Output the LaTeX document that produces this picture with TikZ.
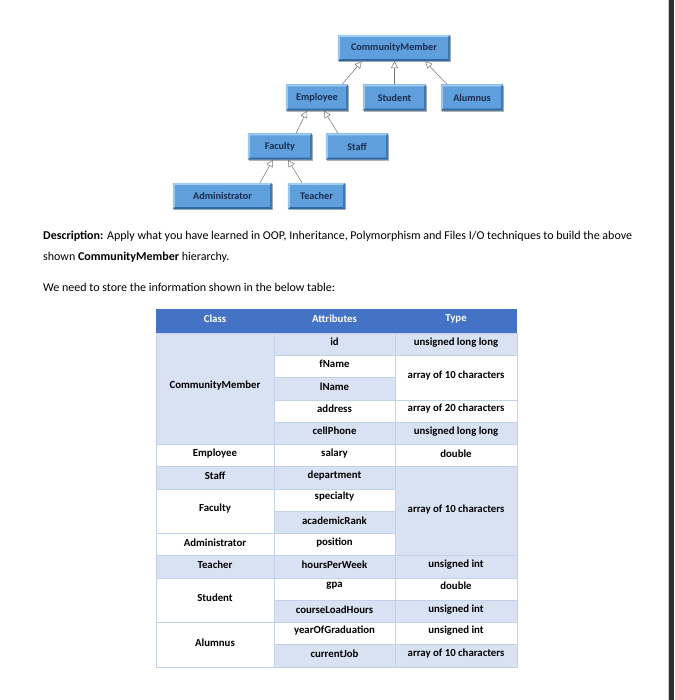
\documentclass[tikz,border=0pt]{standalone}
\usepackage{fontspec}
\setmainfont{Carlito}
\usetikzlibrary{arrows.meta,shadows}
\definecolor{clsblue}{HTML}{5E9FDC}
\definecolor{clslight}{HTML}{A3CEF3}
\definecolor{clsdark}{HTML}{2F69A3}
\definecolor{clsnavy}{HTML}{1C2B4D}
\definecolor{hdrblue}{HTML}{4472C4}
\definecolor{rowblue}{HTML}{D9E2F3}
\definecolor{gridc}{HTML}{C3D1EB}
\definecolor{edgegray}{HTML}{2E2E2E}
\begin{document}
\begin{tikzpicture}[x=1pt,y=-1pt,line join=miter,
		>={Triangle[open,length=7pt,width=7pt]},
		cls/.style={fill=clsblue,text=clsnavy,inner sep=0pt,minimum height=26pt,
			font=\fontsize{10.2}{12}\selectfont\bfseries,
			drop shadow={shadow xshift=1.2pt,shadow yshift=-1.2pt,fill=black!30,opacity=1}},
		isa/.style={->,draw=black!55,line width=0.5pt},
		cell/.style={font=\fontsize{10.8}{12}\selectfont\bfseries,inner sep=0pt},
		txt/.style={anchor=base west,inner sep=0pt,font=\fontsize{12}{14}\selectfont}]
	\useasboundingbox (0,0) rectangle (674,700);
	\fill[white] (0,0) rectangle (674,700);
	\fill[edgegray] (669,0) rectangle (674,700);
	\draw[black!20] (668,0) -- (668,700);
	%--------- Hierarchy
	\node[cls,minimum width=112pt] (cm) at (394,48) {CommunityMember};
	\node[cls,minimum width=62pt] (emp) at (317,97.5) {Employee};
	\node[cls,minimum width=63pt] (stu) at (394.5,97.5) {Student};
	\node[cls,minimum width=62pt] (alu) at (472,97.5) {Alumnus};
	\node[cls,minimum width=64pt] (fac) at (280,146.5) {Faculty};
	\node[cls,minimum width=62pt] (stf) at (357,146.5) {Staff};
	\node[cls,minimum width=99pt] (adm) at (222.5,196) {Administrator};
	\node[cls,minimum width=57pt] (tea) at (316.5,196) {Teacher};
	\foreach \n in {cm,emp,stu,alu,fac,stf,adm,tea}{
		\fill[clslight] (\n.north west) -- (\n.north east) -- ([shift={(-2pt,-2pt)}]\n.north east) -- ([shift={(2pt,-2pt)}]\n.north west) -- cycle;
		\fill[clsblue!60!white] (\n.north west) -- ([shift={(2pt,-2pt)}]\n.north west) -- ([shift={(2pt,2pt)}]\n.south west) -- (\n.south west) -- cycle;
		\fill[clsdark] (\n.south west) -- (\n.south east) -- ([shift={(-2pt,2pt)}]\n.south east) -- ([shift={(2pt,2pt)}]\n.south west) -- cycle;
		\fill[clsdark!70!clsblue] (\n.north east) -- (\n.south east) -- ([shift={(-2pt,2pt)}]\n.south east) -- ([shift={(-2pt,-2pt)}]\n.north east) -- cycle;
	}
	\draw[isa] ([xshift=-6pt]emp.north east) -- ([xshift=24pt]cm.south west);
	\draw[isa] (stu.north) -- (stu.north |- cm.south);
	\draw[isa] ([xshift=6pt]alu.north west) -- ([xshift=-25pt]cm.south east);
	\draw[isa] ([xshift=16pt]fac.north) -- ([xshift=-10pt]emp.south);
	\draw[isa] ([xshift=-19pt]stf.north) -- ([xshift=7pt]emp.south);
	\draw[isa] ([xshift=37.5pt]adm.north) -- ([xshift=-7pt]fac.south);
	\draw[isa] ([xshift=-14.5pt]tea.north) -- ([xshift=8pt]fac.south);
	%--------- Text
	\node[txt] (desc) at (43,239.5) {\textbf{Description:} Apply what you have learned in OOP, Inheritance, Polymorphism and Files I/O techniques to build the above};
	\node[txt] (shown) at (43,260.5) {shown \textbf{CommunityMember} hierarchy.};
	\node[txt] (need) at (43,291.5) {We need to store the information shown in the below table:};
	%--------- Table
	\def\rh{22.27}
	\fill[hdrblue] (156,309) rectangle (517,333);
	\foreach \xa/\xb/\nm/\t in {156/274/hcls/Class,274/395/hatt/Attributes,395/517/htyp/Type}
		\node[cell,text=white] (\nm) at ({(\xa+\xb)/2},318.5) {\t};
	\foreach \xa/\xb/\ra/\rb/\fc/\dy/\t [count=\k] in {
		156/274/0/5/rowblue/-3/CommunityMember,
		156/274/5/6/white/-2/Employee,
		156/274/6/7/rowblue/-2/Staff,
		156/274/7/9/white/-2.5/Faculty,
		156/274/9/10/white/-2/Administrator,
		156/274/10/11/rowblue/-2/Teacher,
		156/274/11/13/white/-2.5/Student,
		156/274/13/15/white/-2.5/Alumnus,
		274/395/0/1/rowblue/-2/id,
		274/395/1/2/white/-3/fName,
		274/395/2/3/rowblue/-2/lName,
		274/395/3/4/white/-2/address,
		274/395/4/5/rowblue/-2/cellPhone,
		274/395/5/6/white/-2/salary,
		274/395/6/7/rowblue/-2/department,
		274/395/7/8/white/-3/specialty,
		274/395/8/9/rowblue/-2/academicRank,
		274/395/9/10/white/-2/position,
		274/395/10/11/rowblue/-2/hoursPerWeek,
		274/395/11/12/white/-3/gpa,
		274/395/12/13/rowblue/-2/courseLoadHours,
		274/395/13/14/white/-3/yearOfGraduation,
		274/395/14/15/rowblue/-2/currentJob,
		395/517/0/1/rowblue/-2/unsigned long long,
		395/517/1/3/white/-2/array of 10 characters,
		395/517/3/4/white/-2/array of 20 characters,
		395/517/4/5/rowblue/-2/unsigned long long,
		395/517/5/6/white/-2/double,
		395/517/6/10/rowblue/-2/array of 10 characters,
		395/517/10/11/rowblue/-2/unsigned int,
		395/517/11/12/white/-3/double,
		395/517/12/13/rowblue/-2/unsigned int,
		395/517/13/14/white/-3/unsigned int,
		395/517/14/15/rowblue/-2/array of 10 characters}{
		\filldraw[fill=\fc,draw=gridc,line width=0.6pt] (\xa,{333+\rh*\ra}) rectangle (\xb,{333+\rh*\rb});
		\node[cell] (c\k) at ({(\xa+\xb)/2},{333+\rh*(\ra+\rb)/2+\dy}) {\t};
	}
\end{tikzpicture}
\end{document}
